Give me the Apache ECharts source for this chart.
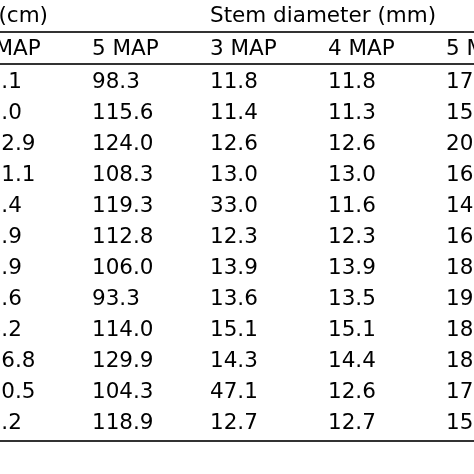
<!DOCTYPE html>
<html><head><meta charset="utf-8">
<script src="https://cdn.jsdelivr.net/npm/echarts@6/dist/echarts.min.js"></script>
<style>html,body{margin:0;background:#fff}#c{width:474px;height:474px}</style>
</head><body><div id="c"></div>
<script>
const groupTitles = [["Plant height (cm)", 0.627, "right"], ["Stem diameter (mm)", 2.0, "left"]];
const columnHeaders = ["4 MAP", "5 MAP", "3 MAP", "4 MAP", "5 MAP"];
const height4MAP = ["99.1","90.0","102.9","111.1","95.4","98.9","97.9","89.6","96.2","116.8","100.5","98.2"];
const height5MAP = ["98.3","115.6","124.0","108.3","119.3","112.8","106.0","93.3","114.0","129.9","104.3","118.9"];
const stem3MAP = ["11.8","11.4","12.6","13.0","33.0","12.3","13.9","13.6","15.1","14.3","47.1","12.7"];
const stem4MAP = ["11.8","11.3","12.6","13.0","11.6","12.3","13.9","13.5","15.1","14.4","12.6","12.7"];
const stem5MAP = ["17.2","15.8","20.1","16.5","14.9","16.3","18.2","19.0","18.4","18.7","17.5","15.6"];
const columns = [height4MAP, height5MAP, stem3MAP, stem4MAP, stem5MAP];

const cells = [];
columns.forEach((col, ci) => col.forEach((v, ri) => cells.push([ci, ri, v])));
const headerCells = columnHeaders.map((h, ci) => [ci, -1.06, h]);
const titleCells = groupTitles.map(t => ({value: [t[1], -2.13, t[0]], label: {align: t[2]}}));

const txt = {show: true, position: [0, 0], align: 'left', verticalAlign: 'middle',
  formatter: p => p.value[2], color: '#000', opacity: 1, textBorderWidth: 0,
  fontSize: 21.5, fontFamily: 'DejaVu Sans'};
const base = {type: 'scatter', symbolSize: 0, silent: true, label: txt,
  emphasis: {disabled: true}, itemStyle: {opacity: 1}};

const chart = echarts.init(document.getElementById('c'));
chart.setOption({
  backgroundColor: '#fff',
  animation: false,
  grid: {left: 0, right: 0, top: 0, bottom: 0},
  xAxis: {type: 'value', min: 26/118, max: 26/118 + 474/118, show: false},
  yAxis: {type: 'value', inverse: true, min: -82/31, max: -82/31 + 474/31, show: false},
  series: [
    Object.assign({}, base, {data: cells, clip: false}),
    Object.assign({}, base, {data: headerCells, clip: false}),
    Object.assign({}, base, {data: titleCells, clip: false,
      markLine: {silent: true, symbol: 'none', label: {show: false},
        lineStyle: {color: '#333', width: 2, type: 'solid', opacity: 1},
        data: [{yAxis: -1.61}, {yAxis: -0.58}, {yAxis: 11.58}]}})
  ]
});
</script></body></html>
